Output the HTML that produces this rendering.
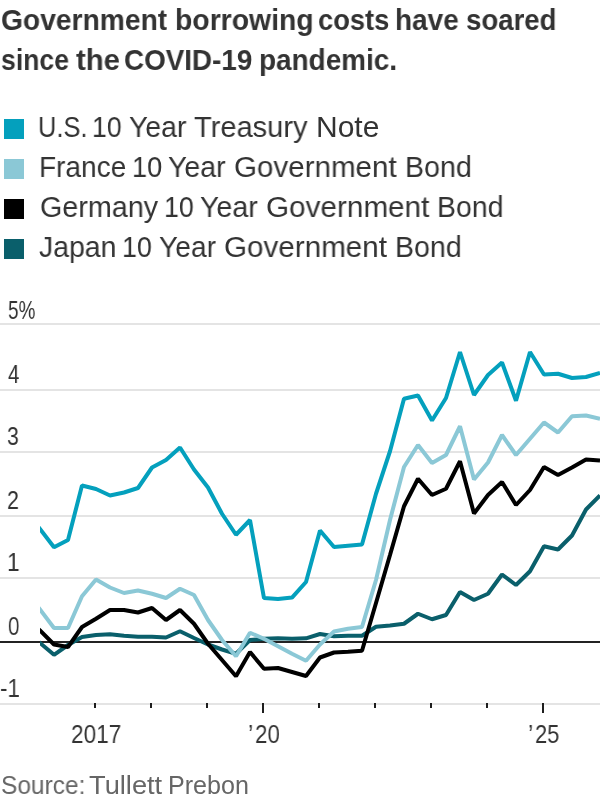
<!DOCTYPE html>
<html><head><meta charset="utf-8"><style>
html,body{margin:0;padding:0;background:#fff;}
body{width:600px;height:800px;position:relative;overflow:hidden;font-family:"Liberation Sans",sans-serif;color:#333;}
.t{position:absolute;white-space:nowrap;line-height:1;transform-origin:0 0;will-change:transform;}
.sq{position:absolute;left:4px;width:20px;height:20px;}
svg{position:absolute;left:0;top:0;}
</style></head><body>
<svg width="600" height="800" viewBox="0 0 600 800">
<rect x="0" y="323" width="600" height="2" fill="#e4e4e4"/>
<rect x="0" y="389" width="600" height="2" fill="#e4e4e4"/>
<rect x="0" y="451" width="600" height="2" fill="#e4e4e4"/>
<rect x="0" y="515" width="600" height="2" fill="#e4e4e4"/>
<rect x="0" y="577" width="600" height="2" fill="#e4e4e4"/>
<rect x="0" y="703" width="600" height="2" fill="#e4e4e4"/>
<rect x="94" y="703" width="2" height="5" fill="#1e1e1e"/>
<rect x="150" y="703" width="2" height="5" fill="#1e1e1e"/>
<rect x="206" y="703" width="2" height="5" fill="#1e1e1e"/>
<rect x="262" y="703" width="2" height="10" fill="#1e1e1e"/>
<rect x="318" y="703" width="2" height="5" fill="#1e1e1e"/>
<rect x="374" y="703" width="2" height="5" fill="#1e1e1e"/>
<rect x="430" y="703" width="2" height="5" fill="#1e1e1e"/>
<rect x="486" y="703" width="2" height="5" fill="#1e1e1e"/>
<rect x="542" y="703" width="2" height="10" fill="#1e1e1e"/>
<rect x="0" y="641" width="600" height="2" fill="#232323"/>
<defs><clipPath id="c"><rect x="40" y="0" width="560" height="800"/></clipPath></defs>
<g clip-path="url(#c)" fill="none" stroke-width="4" stroke-linejoin="bevel">
<polyline points="26,510.7 40,529 54,547.3 68,540 82,485.5 96,489 110,495.5 124,492.5 138,488 152,467.5 166,460 180,447.5 194,469.5 208,487.5 222,513.75 236,534.75 250,520 264,598.1 278,599.05 292,597.55 306,582 320,530.5 334,547 348,545.75 362,544.5 376,493.75 390,451.25 404,398.75 418,395.5 432,420.5 446,398 460,352 474,395 488,375 502,362.5 516,400.75 530,352 544,374.5 558,373.75 572,378 586,377 600,373" stroke="#04a0bd"/>
<polyline points="26,631.2 40,643 54,654.8 68,645 82,637 96,635 110,634.25 124,635.75 138,636.75 152,636.75 166,637.5 180,631.25 194,638 208,644.5 222,649.5 236,653.75 250,640 264,638.8 278,638.3 292,638.8 306,638.3 320,634 334,636.25 348,635.75 362,635.75 376,626.75 390,625.5 404,623.75 418,613.75 432,619.25 446,615 460,592 474,600 488,593.75 502,574.5 516,585 530,571.25 544,546.25 558,549.5 572,535.5 586,509.5 600,495.5" stroke="#0a5f6b"/>
<polyline points="26,616.5 40,630.5 54,644.5 68,647 82,627 96,618.75 110,610 124,610 138,612.5 152,608 166,620 180,610 194,623.75 208,643.75 222,660 236,676.3 250,652 264,668.75 278,668 292,672 306,676 320,657.5 334,652.5 348,651.75 362,650.75 376,603 390,555 404,506.25 418,478.75 432,495 446,488.75 460,461.25 474,513.5 488,495 502,482 516,505 530,490 544,467 558,475 572,467.5 586,459.5 600,460.5" stroke="#000000"/>
<polyline points="26,591 40,609.5 54,628 68,628 82,596.25 96,579.5 110,587.5 124,593 138,590.5 152,593.75 166,598 180,588.75 194,595 208,620 222,640 236,656.25 250,632.75 264,638.75 278,646.25 292,653.75 306,660.75 320,644.5 334,631.5 348,628.75 362,627 376,580 390,520 404,467 418,445 432,463 446,455 460,426.25 474,479.5 488,462.5 502,435 516,455 530,438.75 544,422.5 558,432.5 572,416.25 586,415.5 600,418.75" stroke="#8bc8d6"/>
</g>
</svg>
<div class="sq" style="top:119px;background:#04a0bd"></div>
<div class="sq" style="top:159px;background:#8bc8d6"></div>
<div class="sq" style="top:199px;background:#000000"></div>
<div class="sq" style="top:239px;background:#0a5f6b"></div>
<div class="t" style="left:0.56px;top:5px;font-size:30px;font-weight:bold;color:#333;transform:scaleX(0.9403)">Government</div>
<div class="t" style="left:174.51px;top:5px;font-size:30px;font-weight:bold;color:#333;transform:scaleX(0.9455)">borrowing</div>
<div class="t" style="left:318.09px;top:5px;font-size:30px;font-weight:bold;color:#333;transform:scaleX(0.9091)">costs</div>
<div class="t" style="left:395.14px;top:5px;font-size:30px;font-weight:bold;color:#333;transform:scaleX(0.9318)">have</div>
<div class="t" style="left:465.78px;top:5px;font-size:30px;font-weight:bold;color:#333;transform:scaleX(0.9198)">soared</div>
<div class="t" style="left:0.61px;top:45px;font-size:30px;font-weight:bold;color:#333;transform:scaleX(0.8867)">since</div>
<div class="t" style="left:76.00px;top:45px;font-size:30px;font-weight:bold;color:#333;transform:scaleX(0.9773)">the</div>
<div class="t" style="left:124.07px;top:45px;font-size:30px;font-weight:bold;color:#333;transform:scaleX(0.9270)">COVID-19</div>
<div class="t" style="left:259.14px;top:45px;font-size:30px;font-weight:bold;color:#333;transform:scaleX(0.9310)">pandemic.</div>
<div class="t" style="left:38.30px;top:112px;font-size:30px;color:#333;transform:scaleX(0.8481)">U.S.</div>
<div class="t" style="left:92.43px;top:112px;font-size:30px;color:#333;transform:scaleX(0.8871)">10</div>
<div class="t" style="left:129.06px;top:112px;font-size:30px;color:#333;transform:scaleX(0.9450)">Year</div>
<div class="t" style="left:194.20px;top:112px;font-size:30px;color:#333;transform:scaleX(0.9684)">Treasury</div>
<div class="t" style="left:315.51px;top:112px;font-size:30px;color:#333;transform:scaleX(0.9967)">Note</div>
<div class="t" style="left:38.63px;top:152px;font-size:30px;color:#333;transform:scaleX(0.9341)">France</div>
<div class="t" style="left:131.69px;top:152px;font-size:30px;color:#333;transform:scaleX(0.9032)">10</div>
<div class="t" style="left:168.45px;top:152px;font-size:30px;color:#333;transform:scaleX(0.9483)">Year</div>
<div class="t" style="left:234.01px;top:152px;font-size:30px;color:#333;transform:scaleX(0.9854)">Government</div>
<div class="t" style="left:404.80px;top:152px;font-size:30px;color:#333;transform:scaleX(0.9522)">Bond</div>
<div class="t" style="left:39.54px;top:192px;font-size:30px;color:#333;transform:scaleX(0.9574)">Germany</div>
<div class="t" style="left:163.92px;top:192px;font-size:30px;color:#333;transform:scaleX(0.8903)">10</div>
<div class="t" style="left:200.35px;top:192px;font-size:30px;color:#333;transform:scaleX(0.9517)">Year</div>
<div class="t" style="left:265.71px;top:192px;font-size:30px;color:#333;transform:scaleX(0.9896)">Government</div>
<div class="t" style="left:437.00px;top:192px;font-size:30px;color:#333;transform:scaleX(0.9478)">Bond</div>
<div class="t" style="left:39.20px;top:232px;font-size:30px;color:#333;transform:scaleX(0.9475)">Japan</div>
<div class="t" style="left:121.71px;top:232px;font-size:30px;color:#333;transform:scaleX(0.8935)">10</div>
<div class="t" style="left:158.86px;top:232px;font-size:30px;color:#333;transform:scaleX(0.9400)">Year</div>
<div class="t" style="left:224.01px;top:232px;font-size:30px;color:#333;transform:scaleX(0.9872)">Government</div>
<div class="t" style="left:394.70px;top:232px;font-size:30px;color:#333;transform:scaleX(0.9507)">Bond</div>
<div class="t" style="left:7.77px;top:297px;font-size:26px;color:#333;transform:scaleX(0.7278)">5%</div>
<div class="t" style="left:8.00px;top:361px;font-size:26px;color:#333;transform:scaleX(0.7857)">4</div>
<div class="t" style="left:7.18px;top:423px;font-size:26px;color:#333;transform:scaleX(0.8154)">3</div>
<div class="t" style="left:7.48px;top:487px;font-size:26px;color:#333;transform:scaleX(0.8231)">2</div>
<div class="t" style="left:6.75px;top:549px;font-size:26px;color:#333;transform:scaleX(0.8750)">1</div>
<div class="t" style="left:7.51px;top:613px;font-size:26px;color:#333;transform:scaleX(0.7923)">0</div>
<div class="t" style="left:-0.05px;top:675px;font-size:26px;color:#333;transform:scaleX(0.8548)">-1</div>
<div class="t" style="left:70.83px;top:721px;font-size:26px;color:#333;transform:scaleX(0.8679)">2017</div>
<div class="t" style="left:248.30px;top:721px;font-size:26px;color:#333;transform:scaleX(0.9000)">’</div>
<div class="t" style="left:254.94px;top:721px;font-size:26px;color:#333;transform:scaleX(0.8593)">20</div>
<div class="t" style="left:528.30px;top:721px;font-size:26px;color:#333;transform:scaleX(0.9000)">’</div>
<div class="t" style="left:534.96px;top:721px;font-size:26px;color:#333;transform:scaleX(0.8407)">25</div>
<div class="t" style="left:0.72px;top:773px;font-size:25px;color:#666;transform:scaleX(0.9795)">Source:</div>
<div class="t" style="left:89.00px;top:773px;font-size:25px;color:#666;transform:scaleX(1.0896)">Tullett</div>
<div class="t" style="left:168.19px;top:773px;font-size:25px;color:#666;transform:scaleX(1.0039)">Prebon</div>
</body></html>
